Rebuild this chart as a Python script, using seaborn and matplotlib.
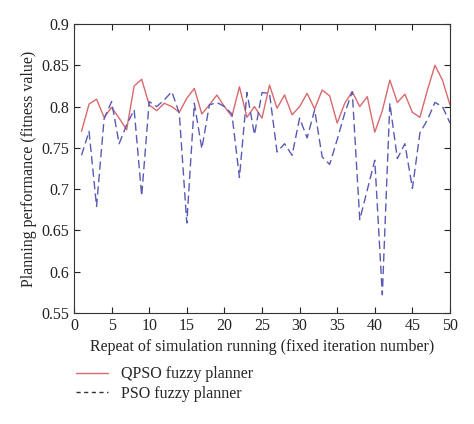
import numpy as np
import pandas as pd
import matplotlib
matplotlib.use("Agg")
import matplotlib.pyplot as plt
import seaborn as sns

runs = list(range(1, 51))
qpso = [0.770, 0.803, 0.809, 0.787, 0.799, 0.786, 0.772, 0.825, 0.833, 0.802,
        0.795, 0.804, 0.800, 0.793, 0.810, 0.822, 0.791, 0.802, 0.814, 0.800,
        0.788, 0.824, 0.787, 0.800, 0.786, 0.826, 0.798, 0.814, 0.790, 0.800,
        0.816, 0.797, 0.820, 0.813, 0.780, 0.804, 0.818, 0.800, 0.812, 0.769,
        0.795, 0.832, 0.805, 0.815, 0.793, 0.787, 0.820, 0.850, 0.832, 0.802]
pso = [0.741, 0.770, 0.679, 0.785, 0.806, 0.755, 0.778, 0.796, 0.692, 0.806,
       0.800, 0.808, 0.818, 0.792, 0.659, 0.804, 0.749, 0.802, 0.805, 0.800,
       0.791, 0.714, 0.817, 0.766, 0.817, 0.816, 0.745, 0.755, 0.741, 0.786,
       0.762, 0.796, 0.739, 0.730, 0.760, 0.792, 0.818, 0.663, 0.699, 0.735,
       0.572, 0.804, 0.737, 0.755, 0.701, 0.768, 0.784, 0.805, 0.800, 0.780]

sns.set_style("white")
plt.rcParams['font.family'] = ['Liberation Serif', 'DejaVu Serif']

fig = plt.figure(figsize=(4.74, 4.24), dpi=100)
ax = fig.add_axes([74/474, 1 - 313/424, 376/474, 289/424])

sns.lineplot(x=runs, y=qpso, ax=ax, color='#d9696e', linewidth=1.0,
             label='QPSO fuzzy planner')
sns.lineplot(x=runs, y=pso, ax=ax, color='#5a5ab4', linewidth=1.0,
             linestyle=(0, (6, 3)), label='PSO fuzzy planner')

ax.set_xlim(0, 50)
ax.set_ylim(0.55, 0.9)
ax.set_xticks(np.arange(0, 51, 5))
ax.set_yticks(np.arange(0.55, 0.901, 0.05))
ax.set_yticklabels(['0.55', '0.6', '0.65', '0.7', '0.75', '0.8', '0.85', '0.9'])
ax.tick_params(direction='in', length=4, width=0.8, top=True, right=True,
               bottom=True, left=True, labelsize=11.5, colors='#222222')
for s in ax.spines.values():
    s.set_color('#333333')
    s.set_linewidth(0.8)

ax.set_xlabel('Repeat of simulation running (fixed iteration number)', fontsize=11.5)
ax.set_ylabel('Planning performance (fitness value)', fontsize=11.5, labelpad=3)

handles, labels = ax.get_legend_handles_labels()
ax.get_legend().remove()
leg = fig.legend(handles, labels, loc='upper left',
                 bbox_to_anchor=(62/474, 1 - 352/424), frameon=False,
                 fontsize=11.5, handlelength=2.0, handletextpad=0.8,
                 labelspacing=0.2)
leg.get_lines()[1].set_color('#333333')
leg.get_lines()[1].set_linestyle((0, (3, 2.5)))

fig.savefig('out.png', dpi=100)
